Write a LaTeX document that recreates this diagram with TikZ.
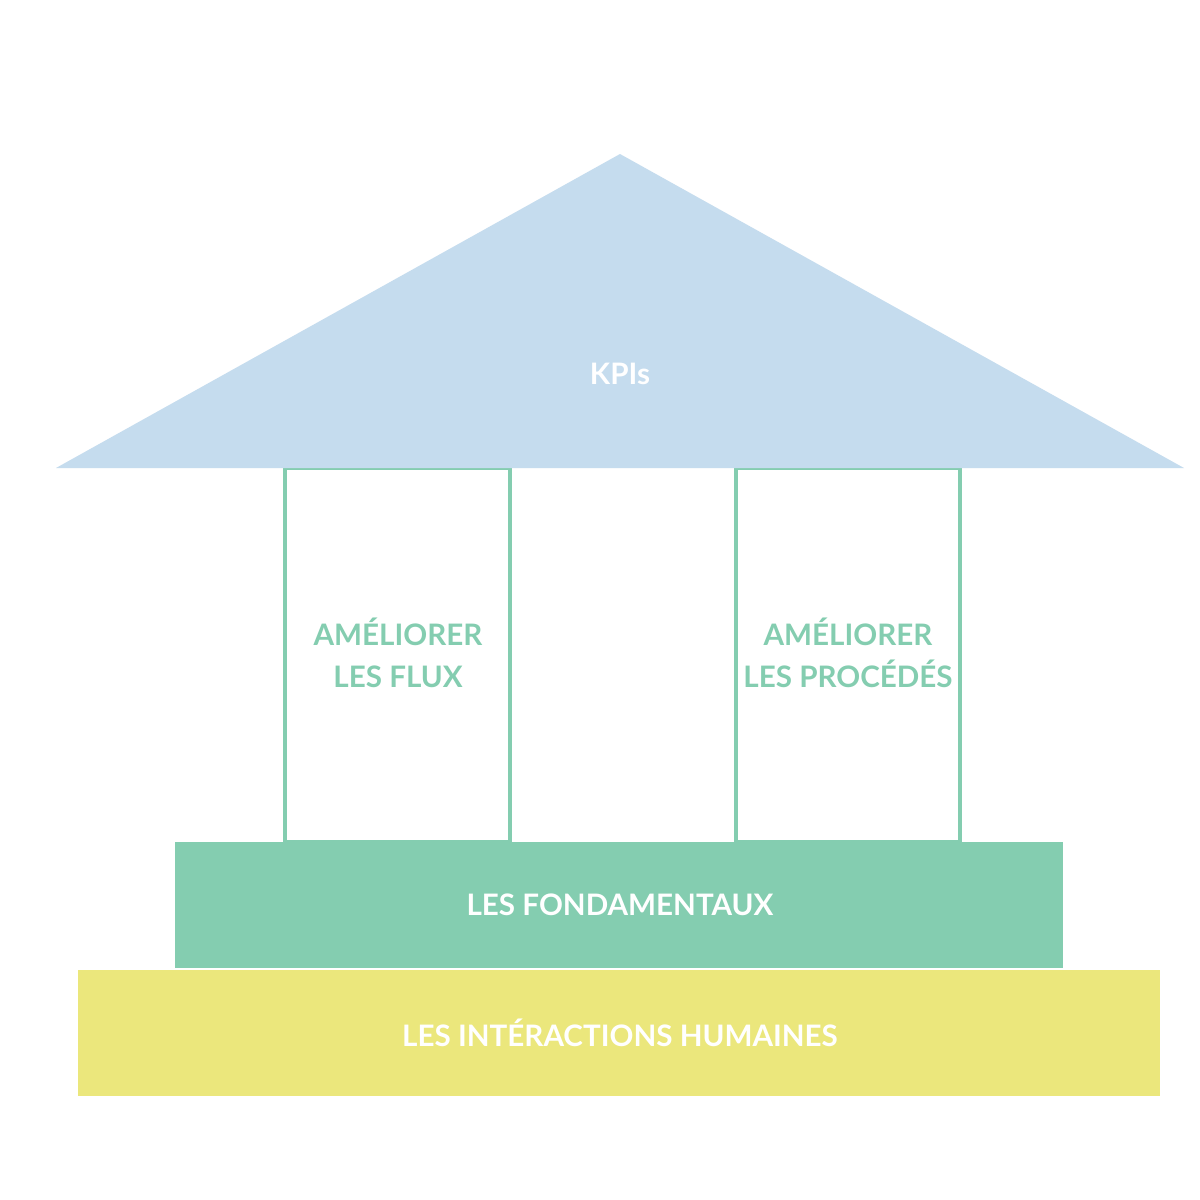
\documentclass[tikz,border=0pt]{standalone}
\usepackage{fontspec}
\setmainfont{Lato}
\definecolor{roofc}{HTML}{C5DCEE}
\definecolor{greenc}{HTML}{84CDB0}
\definecolor{yellowc}{HTML}{EBE77C}
\begin{document}
\begin{tikzpicture}[x=1pt,y=-1pt,
  lbl/.style={font=\bfseries\fontsize{29.6}{42}\selectfont,text=white,align=center},
  pillarlbl/.style={font=\bfseries\fontsize{29.6}{42}\selectfont,text=greenc,align=center},
  pillar/.style={draw=greenc,line width=4pt,fill=white}]
\useasboundingbox (0,0) rectangle (1200,1200);
\fill[white] (0,0) rectangle (1200,1200);
% pillars
\draw[pillar] (285,468) rectangle (510,842);
\draw[pillar] (736,468) rectangle (960,842);
% roof
\fill[roofc] (620,154) -- (1184,468) -- (56,468) -- cycle;
\node[lbl] (kpi) at (620,374) {KPIs};
% base blocks
\fill[greenc] (175,842) rectangle (1063,968);
\node[lbl] (fond) at (620,905) {LES FONDAMENTAUX};
\fill[yellowc] (78,970) rectangle (1160,1096);
\node[lbl] (inter) at (620,1033) {LES INTÉRACTIONS HUMAINES};
% pillar labels
\node[pillarlbl] (flux) at (398,653) {AMÉLIORER\\LES FLUX};
\node[pillarlbl] (proc) at (848,653) {AMÉLIORER\\LES PROCÉDÉS};
\end{tikzpicture}
\end{document}
